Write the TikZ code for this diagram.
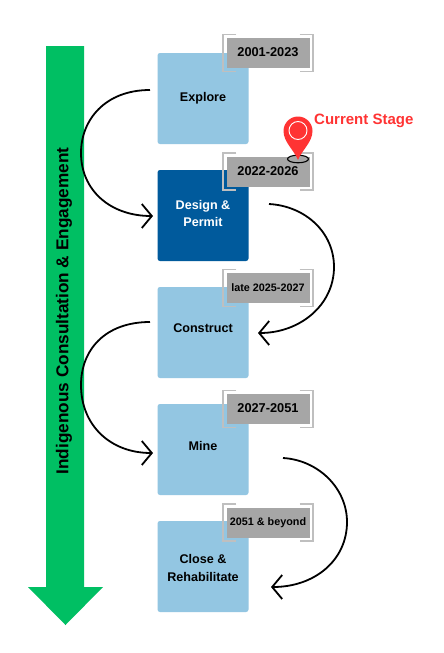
\documentclass[tikz,border=0pt]{standalone}
\usepackage{fontspec}
\setmainfont{Liberation Sans}
\usetikzlibrary{arrows.meta}
\definecolor{lightb}{HTML}{93C6E2}
\definecolor{darkb}{HTML}{005A9C}
\definecolor{greyb}{HTML}{A6A6A6}
\definecolor{brk}{HTML}{BFBFBF}
\definecolor{greenar}{HTML}{00BF63}
\definecolor{pinred}{HTML}{FF3333}
\newcommand{\lift}[2]{\raisebox{#1}[0pt][0pt]{#2}}
\tikzset{
  stage/.style={fill=lightb,rounded corners=2.5pt,minimum width=91pt,minimum height=91pt,inner sep=0pt,align=center,font=\fontsize{12.6}{17.5}\selectfont\bfseries,text=black},
  date/.style={fill=greyb,minimum width=83pt,minimum height=30pt,inner sep=0pt,text=black,font=\fontsize{12.8}{14}\selectfont\bfseries},
  smalldate/.style={date,font=\fontsize{10.8}{12}\selectfont\bfseries},
  bracketline/.style={draw=brk,line width=1.5pt},
  flow/.style={draw=black,line width=1.8pt,-{Straight Barb[length=10pt,width=24pt,line width=1.8pt]}}
}
\newcommand{\brackets}[1]{%
  \draw[bracketline] ([shift={(10pt,3.5pt)}]#1.north west) -- ([shift={(-3.5pt,3.5pt)}]#1.north west) |- ([shift={(10pt,-3.5pt)}]#1.south west);
  \draw[bracketline] ([shift={(-10pt,3.5pt)}]#1.north east) -- ([shift={(3.5pt,3.5pt)}]#1.north east) |- ([shift={(-10pt,-3.5pt)}]#1.south east);
}
\begin{document}
\begin{tikzpicture}[x=1pt,y=-1pt]
\useasboundingbox (0,0) rectangle (444,653);
\fill[white] (0,0) rectangle (444,653);
% green arrow
\fill[greenar] (46,46) -- (84,46) -- (84,587) -- (103,587) -- (65.5,625) -- (28,587) -- (46,587) -- cycle;
\node[rotate=90,font=\fontsize{17.2}{20}\selectfont\bfseries,text=black,inner sep=0pt] (lab) at (64,311) {Indigenous Consultation \& Engagement};
% stages
\node[stage] (explore) at (203,98.5) {\lift{-3pt}{Explore}};
\node[stage,fill=darkb,text=white] (design) at (203,215.5) {\lift{-2.5pt}{Design \&}\\\lift{-2.5pt}{Permit}};
\node[stage] (construct) at (203,332.5) {\lift{0pt}{Construct}};
\node[stage] (mine) at (203,449.5) {\lift{-1pt}{Mine}};
\node[stage] (close) at (203,566.5) {\lift{-6pt}{Close \&}\\\lift{-6pt}{Rehabilitate}};
% dates
\node[date] (d1) at (268,53) {\raisebox{1pt}{2001-2023}};
\node[date] (d2) at (268,171.5) {\raisebox{1pt}{2022-2026}};
\node[smalldate] (d3) at (268,288) {\raisebox{1pt}{late 2025-2027}};
\node[date] (d4) at (268,409) {\raisebox{1pt}{2027-2051}};
\node[smalldate] (d5) at (268,522.5) {\raisebox{1pt}{2051 \& beyond}};
\brackets{d1}\brackets{d2}\brackets{d3}\brackets{d4}\brackets{d5}
% connector ends
\coordinate (s1) at (150,90);
\coordinate (e1) at (153,216);
\coordinate (s2) at (269,204);
\coordinate (e2) at (258,333);
\coordinate (s3) at (150,322);
\coordinate (e3) at (153,453);
\coordinate (s4) at (283,458);
\coordinate (e4) at (271,587);
\draw[flow] (s1) .. controls (105,90) and (81,120) .. (81,153) .. controls (81,190) and (110,216) .. (e1);
\draw[flow] (s2) .. controls (305,206) and (334,232) .. (334,267) .. controls (334,305) and (300,333) .. (e2);
\draw[flow] (s3) .. controls (105,322) and (81,350) .. (81,385) .. controls (81,425) and (110,453) .. (e3);
\draw[flow] (s4) .. controls (318,460) and (347,488) .. (347,522) .. controls (347,560) and (315,587) .. (e4);
% pin
\draw[black,line width=1.1pt,fill=greyb] (298,159) ellipse (10.5pt and 3.8pt);
\fill[pinred] (298,160) .. controls (294,150) and (283.5,142) .. (283.5,131) arc[start angle=180,end angle=0,radius=14.5pt] .. controls (312.5,142) and (302,150) .. (298,160) -- cycle;
\draw[white,line width=0.9pt] (298,130.5) circle (9pt);
\node[font=\fontsize{15}{17}\selectfont\bfseries,text=pinred,inner sep=0pt,anchor=west] (cur) at (314,120.5) {Current Stage};
\end{tikzpicture}
\end{document}
